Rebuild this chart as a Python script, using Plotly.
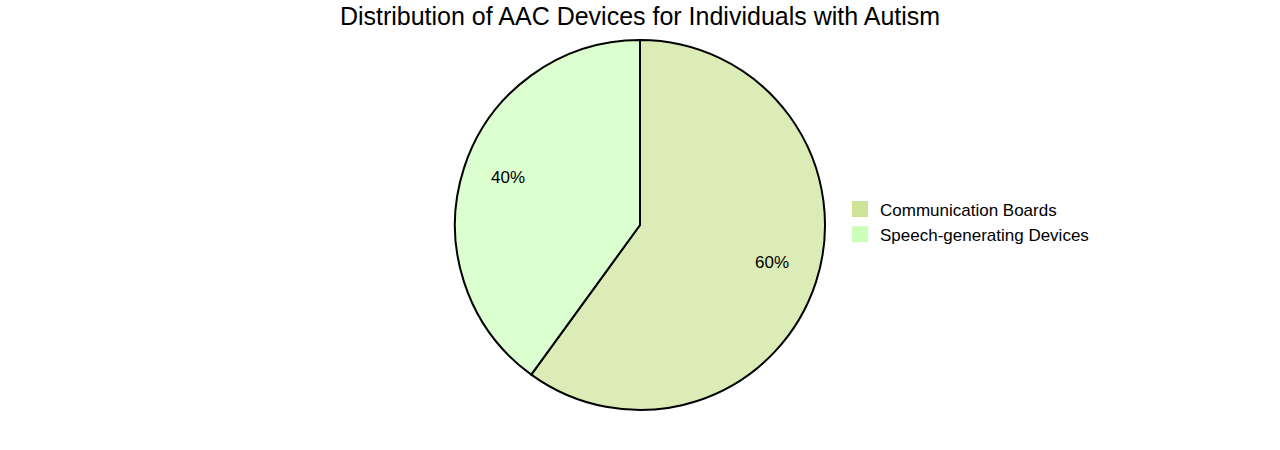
import numpy as np
import plotly.graph_objects as go

# --- data ---
labels = ["Communication Boards", "Speech-generating Devices"]
values = [60, 40]
legend_colors = ["#CDE498", "#CCFFBB"]
slice_alpha = 0.7

TITLE = "Distribution of AAC Devices for Individuals with Autism"
FONT = "Liberation Sans, Arial, sans-serif"
W, H = 1280, 450


def blend(hex_color, alpha):
    # mermaid draws slices with opacity on white
    h = hex_color.lstrip("#")
    rgb = [int(h[i:i + 2], 16) for i in (0, 2, 4)]
    out = [round(alpha * c + (1 - alpha) * 255) for c in rgb]
    return "rgb({},{},{})".format(*out)


slice_colors = [blend(c, slice_alpha) for c in legend_colors]

# pie area (pixels from top-left)
top_px, bot_px = 40, 410
cx_px, cy_px = 640, 225
radius_px = (bot_px - top_px) / 2
dom_y = [1 - bot_px / H, 1 - top_px / H]

fig = go.Figure()

fig.add_trace(go.Pie(
    labels=labels,
    values=values,
    sort=False,
    direction="clockwise",
    rotation=0,
    marker=dict(colors=slice_colors, line=dict(color="black", width=2)),
    textinfo="none",
    hoverinfo="label+percent",
    showlegend=False,
    domain=dict(x=[0, 1], y=dom_y),
))

# legend swatches (full colour, like the original)
for lab, col in zip(labels, legend_colors):
    fig.add_trace(go.Scatter(
        x=[None], y=[None], mode="markers", name=lab,
        marker=dict(symbol="square", size=18, color=col),
    ))

# percentage labels at 0.75 of radius, mid-angle of each slice
total = sum(values)
start = 0.0
for v in values:
    mid = start + v / total * 360 / 2
    start += v / total * 360
    a = np.radians(mid)
    r = 0.75 * radius_px
    px = cx_px + r * np.sin(a)
    py = cy_px - r * np.cos(a) - 5  # text sits a bit above the anchor point
    fig.add_annotation(
        x=px / W, y=1 - py / H, xref="paper", yref="paper",
        text=f"{round(v / total * 100)}%", showarrow=False,
        font=dict(size=17, color="black", family=FONT),
    )

fig.update_layout(
    width=W, height=H,
    margin=dict(l=0, r=0, t=0, b=0),
    paper_bgcolor="white",
    plot_bgcolor="white",
    font=dict(family=FONT, color="black"),
    title=dict(text=TITLE, x=0.5, xanchor="center",
               y=1 - 16 / H, yanchor="middle",
               font=dict(size=25, color="black", family=FONT)),
    xaxis=dict(visible=False),
    yaxis=dict(visible=False),
    legend=dict(x=840 / W, y=1 - 222 / H,
                xanchor="left", yanchor="middle",
                font=dict(size=17, color="black", family=FONT),
                tracegroupgap=0, itemclick=False),
)

# drop the default page margin so the figure sits at the window corner
fig.write_html("out.html", config={"displayModeBar": False},
               post_script="document.body.style.margin='0';")
